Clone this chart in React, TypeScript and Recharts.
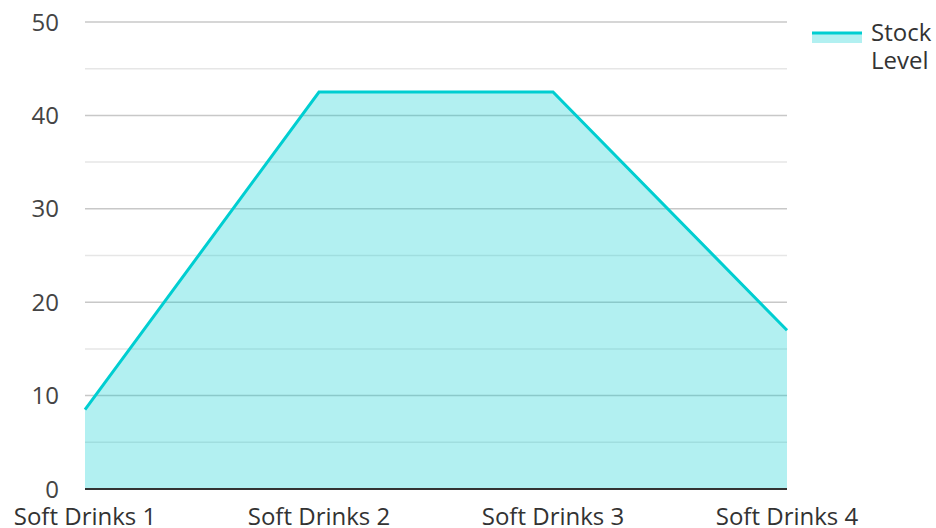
import React from "react";
import {
  AreaChart,
  Area,
  XAxis,
  YAxis,
  CartesianGrid,
  Legend,
} from "recharts";

const categories = ["Soft Drinks 1", "Soft Drinks 2", "Soft Drinks 3", "Soft Drinks 4"];
const stockLevel = [8.5, 42.5, 42.5, 17];
const majorTicks = [0, 10, 20, 30, 40, 50];
const minorTicks = [5, 15, 25, 35, 45];

const data = categories.map((name, i) => ({ name, stock: stockLevel[i] }));

const TEAL = "#00CED1";
const FONT = "'Open Sans', 'Noto Sans', sans-serif";

const LegendContent = () => (
  <div style={{ display: "flex", alignItems: "flex-start", fontFamily: FONT }}>
    <svg width={50} height={14} style={{ marginTop: 12, flex: "none" }}>
      <rect x={0} y={3} width={50} height={10} fill={TEAL} fillOpacity={0.3} />
      <line x1={0} x2={50} y1={3} y2={3} stroke={TEAL} strokeWidth={3} />
    </svg>
    <div
      style={{
        marginLeft: 9,
        width: 64,
        fontSize: 24,
        lineHeight: "28px",
        color: "#333",
      }}
    >
      Stock Level
    </div>
  </div>
);

const App = () => {
  return (
    <div style={{ position: "absolute", left: 0, top: 0 }}>
      <AreaChart
        width={936}
        height={528}
        data={data}
        margin={{ top: 22, right: 0, bottom: 0, left: 0 }}
      >
        <CartesianGrid
          vertical={false}
          horizontalValues={minorTicks}
          stroke="#e6e6e6"
          strokeWidth={1.5}
        />
        <CartesianGrid
          vertical={false}
          horizontalValues={majorTicks}
          stroke="#c8c8c8"
          strokeWidth={1.5}
        />
        <XAxis
          dataKey="name"
          height={39}
          tickLine={false}
          tickSize={0}
          tickMargin={19}
          axisLine={{ stroke: "#333", strokeWidth: 2 }}
          tick={{ fontFamily: FONT, fontSize: 24, fill: "#333" }}
          interval={0}
        />
        <YAxis
          width={85}
          domain={[0, 50]}
          ticks={majorTicks}
          axisLine={false}
          tickLine={false}
          tickSize={0}
          tickMargin={26}
          tick={{ fontFamily: FONT, fontSize: 24, fill: "#444" }}
        />
        <Legend
          layout="vertical"
          align="right"
          verticalAlign="top"
          width={149}
          wrapperStyle={{ paddingLeft: 25, boxSizing: "border-box", top: 18 }}
          content={<LegendContent />}
        />
        <Area
          type="linear"
          dataKey="stock"
          name="Stock Level"
          stroke={TEAL}
          strokeWidth={3}
          fill={TEAL}
          fillOpacity={0.3}
          dot={false}
          activeDot={false}
          isAnimationActive={false}
        />
      </AreaChart>
    </div>
  );
};

export default App;
